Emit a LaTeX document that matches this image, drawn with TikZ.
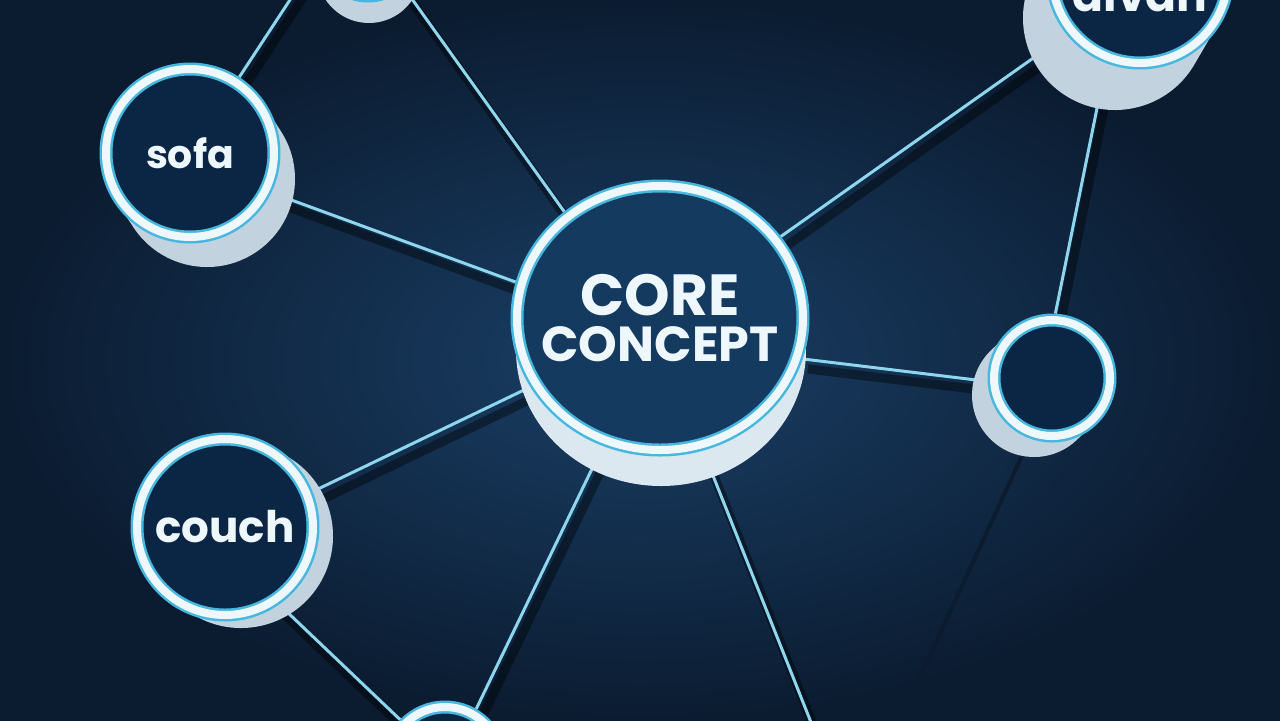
\documentclass[tikz,border=0pt]{standalone}
\usepackage{fontspec}
\setmainfont{Poppins}
\usetikzlibrary{shapes.geometric,calc}
\definecolor{bgdark}{HTML}{0B1C31}
\definecolor{bgmid}{HTML}{1A3F66}
\definecolor{facedark}{HTML}{0B2645}
\definecolor{facecore}{HTML}{143A60}
\definecolor{ringwhite}{HTML}{EEF7FB}
\definecolor{glow}{HTML}{46B8DF}
\definecolor{wirecol}{HTML}{8DD6EE}
\definecolor{bodygrey}{HTML}{C3D2DF}
\definecolor{bodylight}{HTML}{DCE8F0}
\definecolor{wiredark}{HTML}{0C1B2D}
\pgfdeclarelayer{bg}
\pgfdeclarelayer{edges}
\pgfdeclarelayer{bodies}
\pgfsetlayers{bg,edges,bodies,main}
\tikzset{
  disc/.style={circle, inner sep=0pt, fill=facedark, draw=glow, line width=1.3mm,
    postaction={draw=ringwhite, line width=0.8mm}, text=ringwhite, font=\bfseries},
  body/.style={draw=bodygrey, line cap=round},
  wire/.style={draw=wirecol, line width=0.3mm},
  wireshadow/.style={draw=black, opacity=0.4, line width=0.9mm, transform canvas={shift={(5,10)}}},
  darkwire/.style={draw=wiredark, line width=0.4mm}
}
\begin{document}
\begin{tikzpicture}[x=0.1mm, y=-0.1mm]
\useasboundingbox (0,0) rectangle (1280,720);
\begin{pgfonlayer}{bg}
\shade [inner color=bgmid, outer color=bgdark] (0,0) rectangle (1280,720);
\end{pgfonlayer}

% the pucks
\node [disc, shape=ellipse, fill=facecore, minimum width=28.6mm, minimum height=26.4mm,
  inner xsep=-2mm, align=center, font=\bfseries\fontsize{16.5}{13.2}\selectfont] (core) at (660,318)
  {CORE\\{\fontsize{14}{13.2}\selectfont CONCEPT}};
\node [disc, minimum size=16.8mm, font=\bfseries\fontsize{11.2}{12}\selectfont] (sofa) at (190,153) {sofa};
\node [disc, minimum size=17.6mm, font=\bfseries\fontsize{12.4}{14}\selectfont] (couch) at (225,527) {couch};
\node [disc, minimum size=17.6mm, label={[text=ringwhite, font=\bfseries\fontsize{13}{14}\selectfont, yshift=-1.8mm]center:divan}] (divan) at (1140,-25) {};
\node [disc, minimum size=11.6mm] (rightn) at (1052,378) {};
\node [disc, minimum size=9.6mm] (topn) at (368,-52) {};
\node [disc, minimum size=11.2mm] (botn) at (445,763) {};
\coordinate (edgetl) at (303,-20);
\coordinate (edgeb1) at (818,740);
\coordinate (edgeb2) at (891,740);

\begin{pgfonlayer}{bodies}
\fill [bodylight] ($(core.center)+(-143,0)$) rectangle ++(288,32)
  ($(core.center)+(1,32)$) ellipse (14.5mm and 13.6mm);
\draw [body, line width=17.6mm] (sofa.center) -- ++(17,26);
\draw [body, line width=18.4mm] (couch.center) -- ++(16,9);
\draw [body, line width=18.4mm] (divan.center) -- ++(-25,43);
\draw [body, line width=12.4mm] (rightn.center) -- ++(-18,17);
\draw [body, line width=10.4mm] (topn.center) -- ++(1,23);
\draw [body, line width=12mm] (botn.center) -- ++(0,20);
\end{pgfonlayer}

\begin{pgfonlayer}{edges}
\draw [wireshadow] (sofa.-26) -- (core.166);
\draw [wireshadow] (topn.-48) -- (core.132);
\draw [wireshadow] (divan.-141) -- (core.34);
\draw [wireshadow] (divan.-111) -- (rightn.87);
\draw [wireshadow] (core.-16) -- (rightn.183);
\draw [wireshadow] (core.208) -- (couch.22);
\draw [wireshadow] (couch.-55) -- (botn.136);
\draw [wireshadow] (core.246) -- (botn.60);
\draw [wireshadow] (core.-72) -- (edgeb1);
\draw [wireshadow] (sofa.57) -- (edgetl);
\draw [wire] (sofa.-26) -- (core.166);
\draw [wire] (topn.-48) -- (core.132);
\draw [wire] (divan.-141) -- (core.34);
\draw [wire] (divan.-111) -- (rightn.87);
\draw [wire] (core.-16) -- (rightn.183);
\draw [wire] (core.208) -- (couch.22);
\draw [wire] (couch.-55) -- (botn.136);
\draw [wire] (core.246) -- (botn.60);
\draw [wire] (core.-72) -- (edgeb1);
\draw [wire] (sofa.57) -- (edgetl);
\draw [darkwire] (rightn.-110) -- (edgeb2);
\end{pgfonlayer}
\end{tikzpicture}
\end{document}
